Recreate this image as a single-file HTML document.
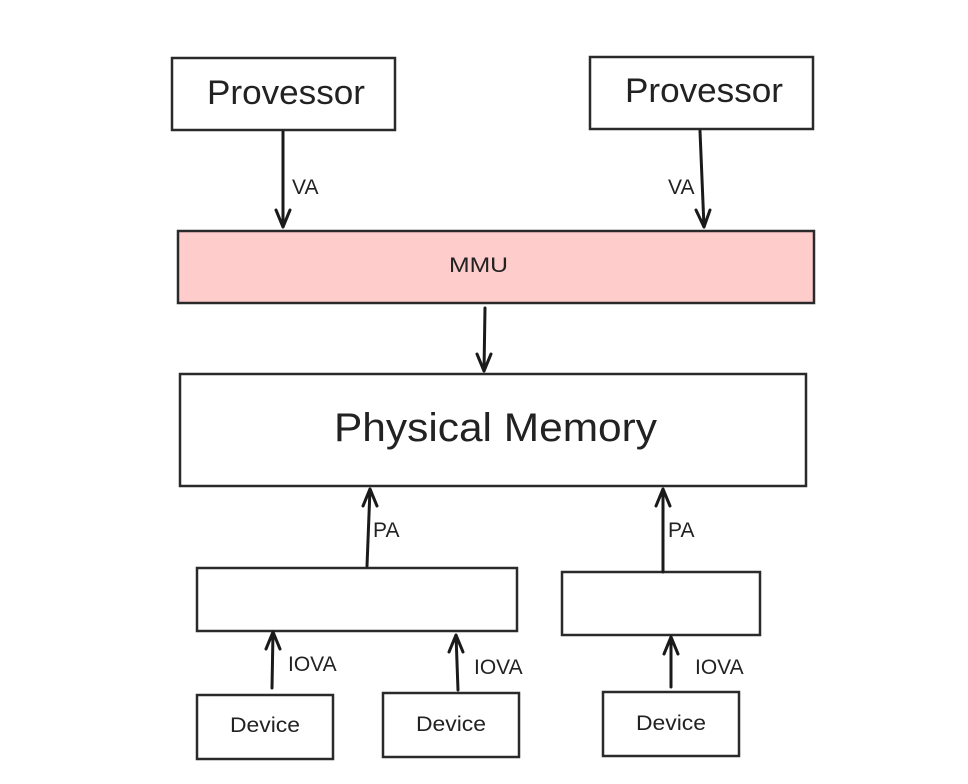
<!DOCTYPE html>
<html><head><meta charset="utf-8"><style>html,body{margin:0;padding:0;background:#fff}svg{display:block}</style></head>
<body>
<svg width="968" height="784" viewBox="0 0 968 784" xmlns="http://www.w3.org/2000/svg" font-family="Liberation Sans, DejaVu Sans, sans-serif" fill="#222">
<g fill="none" stroke="#2a2a2a" stroke-width="2.5">
<rect x="172" y="58" width="223" height="72" fill="#fff"/>
<rect x="590" y="57" width="223" height="72" fill="#fff"/>
<rect x="178" y="231" width="636" height="72" fill="#ffcccc"/>
<rect x="180" y="374" width="626" height="112" fill="#fff"/>
<rect x="197" y="568" width="320" height="63" fill="#fff"/>
<rect x="562" y="572" width="198" height="63" fill="#fff"/>
<rect x="197" y="695" width="136" height="64" fill="#fff"/>
<rect x="383" y="693" width="136" height="64" fill="#fff"/>
<rect x="603" y="692" width="136" height="64" fill="#fff"/>
</g>
<g fill="none" stroke="#1a1a1a" stroke-width="3" stroke-linecap="round" stroke-linejoin="round">
<path d="M283 132 L283 227 M276 210 L283 227 L290 210"/>
<path d="M700 131 L704 227 M696 210 L704 227 L710 210"/>
<path d="M485 308 L484 371 M477 354 L484 371 L491 354"/>
<path d="M367 566 L370 489 M363 506 L370 489 L377 506"/>
<path d="M663 572 L663 489 M656 506 L663 489 L670 506"/>
<path d="M272 688 L273 632 M266 649 L273 632 L280 649"/>
<path d="M458 690 L456 635 M449 652 L456 635 L463 652"/>
<path d="M671 687 L671 637 M664 654 L671 637 L678 654"/>
</g>
<g font-size="34">
<text x="207" y="104" textLength="158" lengthAdjust="spacingAndGlyphs">Provessor</text>
<text x="625" y="102" textLength="158" lengthAdjust="spacingAndGlyphs">Provessor</text>
</g>
<text x="334" y="441" font-size="40" textLength="323" lengthAdjust="spacingAndGlyphs">Physical Memory</text>
<text x="449" y="272" font-size="21" textLength="59" lengthAdjust="spacingAndGlyphs">MMU</text>
<g font-size="21">
<text x="292" y="194">VA</text>
<text x="668" y="194">VA</text>
<text x="373" y="537">PA</text>
<text x="668" y="537">PA</text>
<text x="288" y="671">IOVA</text>
<text x="474" y="674">IOVA</text>
<text x="695" y="674">IOVA</text>
<text x="230" y="732" textLength="70" lengthAdjust="spacingAndGlyphs">Device</text>
<text x="416" y="731" textLength="70" lengthAdjust="spacingAndGlyphs">Device</text>
<text x="636" y="730" textLength="70" lengthAdjust="spacingAndGlyphs">Device</text>
</g>
</svg>
</body></html>
